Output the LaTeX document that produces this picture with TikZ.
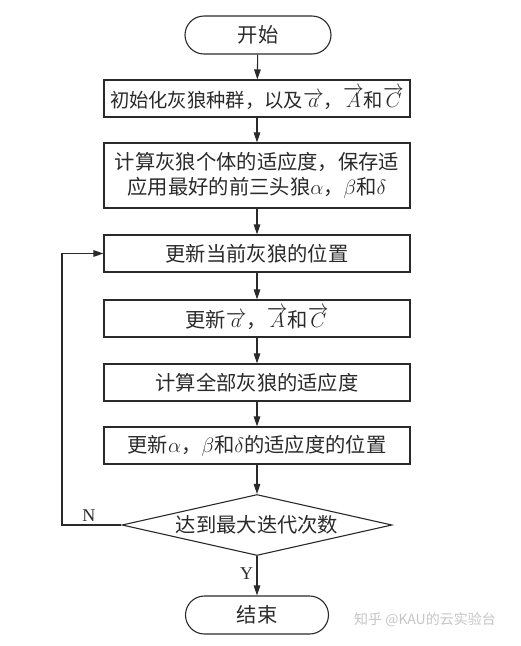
\documentclass[tikz,border=0pt]{standalone}
\usepackage{fontspec}
\setmainfont{Liberation Serif}
\newfontfamily\cjk{Noto Sans CJK SC}
\usetikzlibrary{shapes.geometric,shapes.misc,arrows.meta}
\definecolor{ink}{HTML}{2A2A2A}
\newcommand{\vv}[1]{\overrightarrow{#1}}
\begin{document}
\begin{tikzpicture}[x=1pt,y=-1pt,
  every node/.style={text=ink},
  font=\cjk\fontsize{20.3}{25}\selectfont,
  procbox/.style={draw=ink,line width=1.1pt,rectangle,minimum width=306pt,minimum height=37pt,inner sep=2pt,align=center},
  termbox/.style={draw=ink,line width=1.1pt,rounded rectangle,minimum height=38pt,inner sep=2pt},
  decbox/.style={draw=ink,line width=1.1pt,diamond,minimum width=270pt,minimum height=61pt,inner sep=0pt},
  flow/.style={draw=ink,line width=1.1pt,-{Triangle[length=10pt,width=6.5pt]}},
  lbl/.style={font=\fontsize{18}{20}\selectfont}
]
\useasboundingbox (0,0) rectangle (521,646);
\fill[white] (0,0) rectangle (521,646);
\node[termbox,minimum width=150pt] (start) at (258,35) {开始};
\node[procbox,font=\cjk\fontsize{19.3}{25}\selectfont] (b1) at (257,98.5) {初始化灰狼种群，以及$\vv{a}$，$\vv{A}$和$\vv{C}$};
\node[procbox,minimum height=65pt] (b2) at (257,175.5) {计算灰狼个体的适应度，保存适\\应用最好的前三头狼$\alpha$，$\beta$和$\delta$};
\node[procbox] (b3) at (257,253.5) {更新当前灰狼的位置};
\node[procbox] (b4) at (257,318.5) {更新$\vv{a}$，$\vv{A}$和$\vv{C}$};
\node[procbox] (b5) at (257,382.5) {计算全部灰狼的适应度};
\node[procbox] (b6) at (257,445.5) {更新$\alpha$，$\beta$和$\delta$的适应度的位置};
\node[decbox] (dia) at (257,525) {};
\node (diatext) at (dia.center) {达到最大迭代次数};
\node[termbox,minimum width=147pt] (stop) at (257,615) {结束};
\draw[flow] (start) -- (b1);
\draw[flow] (b1) -- (b2);
\draw[flow] (b2) -- (b3);
\draw[flow] (b3) -- (b4);
\draw[flow] (b4) -- (b5);
\draw[flow] (b5) -- (b6);
\draw[flow] (b6) -- (dia);
\draw[flow] (dia) -- node[lbl,left,pos=0.45] {Y} (stop);
\coordinate (cl) at (62,525);
\draw[flow] (dia.west) -- node[lbl,above,pos=0.55] {N} (cl) |- (b3.west);
\node[text=gray!45,font=\cjk\fontsize{14}{16}\selectfont] (wm) at (425,620) {知乎 @KAU的云实验台};
\end{tikzpicture}
\end{document}
